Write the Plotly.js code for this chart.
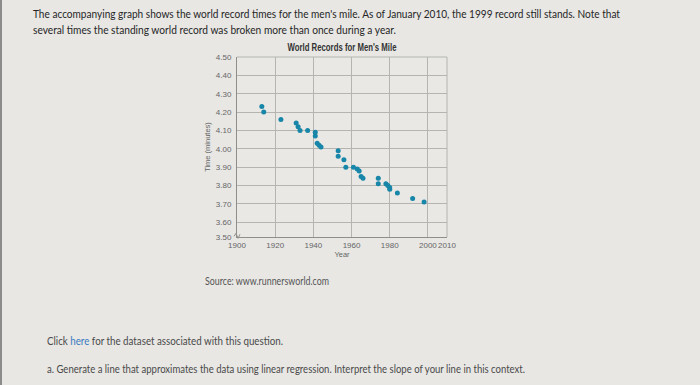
<!DOCTYPE html>
<html>
<head>
<meta charset="utf-8">
<script src="https://cdn.plot.ly/plotly-3.0.1.min.js"></script>
<style>
  html, body { margin:0; padding:0; background:#e8e7e4; }
  #chart { width:698px; height:385px; border-left:2px solid #8c8c8a; }
</style>
</head>
<body>
<div id="chart"></div>
<script>
// Year of each world record
const years = [1913, 1914, 1923, 1931, 1932, 1933, 1937, 1941, 1941, 1942, 1943, 1944,
               1953, 1953, 1956, 1957, 1961, 1963, 1964, 1965, 1966,
               1974, 1974, 1978, 1979, 1980, 1980, 1984, 1992, 1998];
// Record time in minutes
const times = [4.23, 4.20, 4.16, 4.14, 4.12, 4.10, 4.10, 4.09, 4.07, 4.03, 4.02, 4.01,
               3.99, 3.96, 3.94, 3.90, 3.90, 3.89, 3.88, 3.85, 3.84,
               3.84, 3.81, 3.81, 3.80, 3.79, 3.78, 3.76, 3.73, 3.71];
// Axis ticks (y axis is broken at the bottom: 3.50 sits just under 3.60)
const xTickVals = [1900, 1920, 1940, 1960, 1980, 2000, 2010];
const xTickText = ["1900", "1920", "1940", "1960", "1980", "2000", "2010"];
const yTickVals = [3.52, 3.6, 3.7, 3.8, 3.9, 4.0, 4.1, 4.2, 4.3, 4.4, 4.5];
const yTickText = ["3.50", "3.60", "3.70", "3.80", "3.90", "4.00", "4.10", "4.20", "4.30", "4.40", "4.50"];

const chartTitle = "World Records for Men's Mile";
const xTitle = "Year";
const yTitle = "Time (minutes)";
const introLines = [
  "The accompanying graph shows the world record times for the men's mile. As of January 2010, the 1999 record still stands. Note that",
  "several times the standing world record was broken more than once during a year."
];
const sourceText = "Source: www.runnersworld.com";
const clickText = "Click <span style='color:#3b7bbf'>here</span> for the dataset associated with this question.";
const questionText = "a. Generate a line that approximates the data using linear regression. Interpret the slope of your line in this context.";

const trace = {
  x: years, y: times, type: 'scatter', mode: 'markers',
  marker: { color: '#1886a8', size: 5, line: { width: 0 } },
  hoverinfo: 'x+y', showlegend: false
};

// plot area ~ x 237..447.5, y 57..236.7 px
const L = 237, R = 252.5, T = 57.3, B = 148.3;
const W = 700 - L - R, H = 385 - T - B;
const px = v => (v - L) / W;         // page px -> paper x
const py = v => (385 - B - v) / H;   // page px -> paper y

const textFont = { family: 'Lato, "Open Sans", sans-serif', size: 11, color: '#262626' };
const lowFont  = { family: 'Lato, "Open Sans", sans-serif', size: 10.5, color: '#4a4a4a' };

// target drawn widths (px) of the condensed texts, null = natural width
const annSpecs = [
  { text: introLines[0], x: px(31), y: py(14), xanchor: 'left', align: 'left', font: textFont, fit: 587 },
  { text: introLines[1], x: px(31), y: py(30), xanchor: 'left', align: 'left', font: textFont, fit: 363 },
  { text: chartTitle, x: 0.5, y: py(47), xanchor: 'center', align: 'center',
    font: { family: '"Liberation Sans", Arial, sans-serif', size: 11, color: '#333', weight: 'bold' }, fit: 109 },
  { text: sourceText, x: px(203), y: py(281), xanchor: 'left', align: 'left',
    font: { family: 'Lato, sans-serif', size: 10.5, color: '#555' }, fit: 124 },
  { text: clickText, x: px(45), y: py(340), xanchor: 'left', align: 'left', font: lowFont, fit: 236 },
  { text: questionText, x: px(45), y: py(368), xanchor: 'left', align: 'left', font: lowFont, fit: 478 }
];
const annotations = annSpecs.map(a => ({
  xref: 'paper', yref: 'paper', showarrow: false, yanchor: 'middle',
  text: a.text, x: a.x, y: a.y, xanchor: a.xanchor, align: a.align, font: a.font
}));

const layout = {
  width: 698, height: 385,
  margin: { l: L - 2, r: R, t: T, b: B, pad: 0 },
  paper_bgcolor: '#e8e7e4',
  plot_bgcolor: '#e9e8e5',
  xaxis: {
    range: [1900, 2010], tickvals: xTickVals, ticktext: xTickText, tickangle: 0,
    showgrid: true, gridcolor: '#b4b4b0', gridwidth: 1,
    showline: true, linecolor: '#8e8e8a', linewidth: 1, mirror: false,
    ticks: '', zeroline: false,
    tickfont: { family: 'Liberation Sans, Arial, sans-serif', size: 8, color: '#666' },
    title: { text: xTitle, font: { family: 'Liberation Sans, Arial, sans-serif', size: 7.5, color: '#666' }, standoff: 2 }
  },
  yaxis: {
    range: [3.52, 4.5], tickvals: yTickVals, ticktext: yTickText,
    showgrid: true, gridcolor: '#b4b4b0', gridwidth: 1,
    showline: true, linecolor: '#8e8e8a', linewidth: 1,
    ticks: '', zeroline: false, ticklabelstandoff: 3,
    tickfont: { family: 'Liberation Sans, Arial, sans-serif', size: 8, color: '#666' },
    title: { text: yTitle, font: { family: 'Liberation Sans, Arial, sans-serif', size: 7.5, color: '#666' }, standoff: 4 }
  },
  shapes: [
    { type: 'line', xref: 'paper', yref: 'paper', x0: 1, x1: 1, y0: 0, y1: 1, line: { color: '#b4b4b0', width: 1 } },
    { type: 'line', xref: 'paper', yref: 'paper', x0: 0, x1: 1, y0: 1, y1: 1, line: { color: '#b4b4b0', width: 1 } },
    { type: 'path', xref: 'paper', yref: 'paper',
      path: 'M ' + px(234) + ',' + py(236) + ' L ' + px(236) + ',' + py(233) + ' L ' + px(238) + ',' + py(238) + ' L ' + px(240) + ',' + py(234),
      line: { color: '#8e8e8a', width: 1 } }
  ],
  annotations: annotations
};

Plotly.newPlot('chart', [trace], layout, { displayModeBar: false, staticPlot: true }).then(gd => {
  // condense texts to the widths seen in the reference screenshot
  gd.querySelectorAll('.infolayer .annotation').forEach(node => {
    const i = +node.getAttribute('data-index');
    const spec = annSpecs[i];
    if (!spec || !spec.fit) return;
    const t = node.querySelector('text.annotation-text');
    if (!t) return;
    t.setAttribute('textLength', spec.fit);
    t.setAttribute('lengthAdjust', 'spacingAndGlyphs');
  });
});
</script>
</body>
</html>
